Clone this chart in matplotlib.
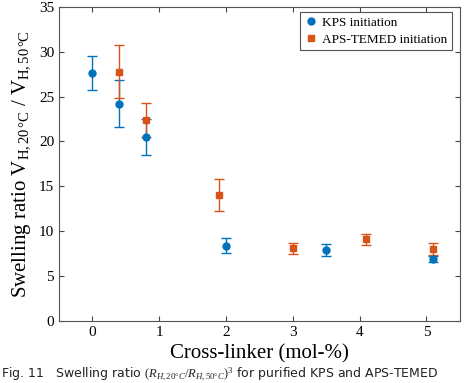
import numpy as np
import matplotlib.pyplot as plt
from matplotlib.lines import Line2D

plt.rcParams['font.family'] = ['Liberation Serif', 'DejaVu Serif']
plt.rcParams['mathtext.fontset'] = 'custom'
plt.rcParams['mathtext.rm'] = 'Liberation Serif'
plt.rcParams['mathtext.it'] = 'Liberation Serif:italic'

# KPS initiation
kps_x = [0, 0.4, 0.8, 2.0, 3.5, 5.1]
kps_y = [27.6, 24.2, 20.5, 8.4, 7.9, 6.9]
kps_err = [1.9, 2.6, 2.0, 0.8, 0.7, 0.3]

# APS-TEMED initiation
aps_x = [0.4, 0.8, 1.9, 3.0, 4.1, 5.1]
aps_y = [27.8, 22.4, 14.0, 8.1, 9.1, 8.0]
aps_err = [3.0, 1.9, 1.8, 0.6, 0.6, 0.7]

blue = '#0072BD'
orange = '#D95319'

fig = plt.figure(figsize=(4.74, 3.83), dpi=100)
ax = fig.add_axes([0.1245, 0.162, 0.8455, 0.82])

ax.errorbar(kps_x, kps_y, yerr=kps_err, fmt='o', color=blue, ms=5,
            capsize=3.5, elinewidth=1.0, capthick=1.0)
ax.errorbar(aps_x, aps_y, yerr=aps_err, fmt='s', color=orange, ms=4.5,
            capsize=3.5, elinewidth=1.0, capthick=1.0)

ax.set_xlim(-0.5, 5.5)
ax.set_ylim(0, 35)
ax.set_xticks(range(6))
ax.set_yticks(range(0, 36, 5))
ax.tick_params(direction='in', top=True, right=True, labelsize=11, color='#444444')
for s in ax.spines.values():
    s.set_color('#555555')
    s.set_linewidth(0.8)

ax.set_xlabel('Cross-linker (mol-%)', fontsize=15)
ax.set_ylabel(r'Swelling ratio V$_{\mathrm{H,20\,°C}}$ / V$_{\mathrm{H,50\,°C}}$', fontsize=15)

handles = [Line2D([], [], ls='none', marker='o', ms=5, color=blue),
           Line2D([], [], ls='none', marker='s', ms=4.5, color=orange)]
leg = ax.legend(handles, ['KPS initiation', 'APS-TEMED initiation'],
                loc='upper right', bbox_to_anchor=(0.98, 0.984), fontsize=9.5,
                fancybox=False, framealpha=1, edgecolor='#555555',
                handletextpad=0.3, borderpad=0.35, labelspacing=0.35,
                handlelength=1.0, borderaxespad=0)
leg.get_frame().set_linewidth(0.8)

fig.text(0.003, 0.003, r'Fig. 11   Swelling ratio $(R_{H,20°C}/R_{H,50°C})^3$ for purified KPS and APS-TEMED',
         fontsize=9, family='DejaVu Sans', va='bottom', ha='left', color='#222222')

fig.savefig('out.png', dpi=100)
